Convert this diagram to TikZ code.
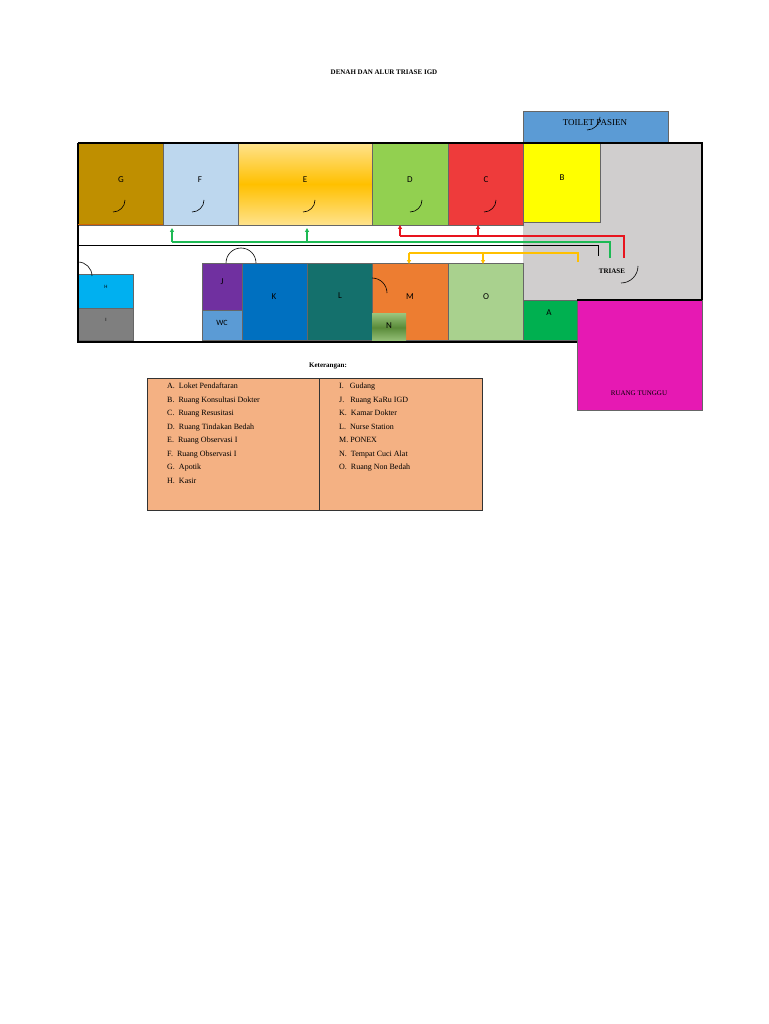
\documentclass[tikz,border=0pt]{standalone}
\usepackage{fontspec}
\setmainfont{Liberation Serif}
\newfontfamily\roomfont{Carlito}
\usetikzlibrary{arrows.meta}
\definecolor{cG}{HTML}{BF8F00}
\definecolor{cF}{HTML}{BDD7EE}
\definecolor{cE}{HTML}{FFC000}
\definecolor{cD}{HTML}{92D050}
\definecolor{cC}{HTML}{EE3B3B}
\definecolor{cB}{HTML}{FFFF00}
\definecolor{cGray}{HTML}{D0CECE}
\definecolor{cToilet}{HTML}{5B9BD5}
\definecolor{cH}{HTML}{00B0F0}
\definecolor{cI}{HTML}{7F7F7F}
\definecolor{cJ}{HTML}{7030A0}
\definecolor{cK}{HTML}{0070C0}
\definecolor{cL}{HTML}{14706C}
\definecolor{cM}{HTML}{ED7D31}
\definecolor{cN}{HTML}{70AD47}
\definecolor{cO}{HTML}{A9D18E}
\definecolor{cA}{HTML}{00B050}
\definecolor{cTunggu}{HTML}{E619B3}
\definecolor{cLegend}{HTML}{F4B183}
\definecolor{cGreen}{HTML}{1DB954}
\definecolor{cRed}{HTML}{E8141E}
\definecolor{cYellow}{HTML}{FFC000}
\tikzset{
  room/.style={draw=black!60, line width=0.4pt},
  label/.style={font=\roomfont\small},
  door/.style={line width=0.6pt},
  wall/.style={line width=1.6pt},
  flow/.style={line width=1.4pt},
  flowtip/.style={-{Triangle[length=4pt,width=4pt]}, line width=1.4pt}
}
\begin{document}
\begin{tikzpicture}[x=1pt,y=-1pt]
\useasboundingbox (0,0) rectangle (768,1024);
\node (title) at (384,72) {\scriptsize\bfseries DENAH DAN ALUR TRIASE IGD};

% ruang atas
\fill[cGray] (523,143) rectangle (702,300);
\filldraw[room,fill=cToilet] (523,111) rectangle (668,143);
\node (toilet) at (595,123) {\small TOILET PASIEN};
\filldraw[room,fill=cG] (78,143) rectangle (163,225);
\filldraw[room,fill=cF] (163,143) rectangle (238,225);
\shade[top color=cE!45,bottom color=cE!45,middle color=cE] (238,143) rectangle (372,225);
\draw[room] (238,143) rectangle (372,225);
\filldraw[room,fill=cD] (372,143) rectangle (448,225);
\filldraw[room,fill=cC] (448,143) rectangle (523,225);
\filldraw[room,fill=cB] (523,143) rectangle (600,222);
\node[label] (G) at (121,180) {G};
\node[label] (F) at (200,180) {F};
\node[label] (E) at (305,180) {E};
\node[label] (D) at (410,180) {D};
\node[label] (C) at (486,180) {C};
\node[label] (B) at (562,178) {B};

% ruang bawah
\filldraw[room,fill=cH] (78,274) rectangle (133,308);
\filldraw[room,fill=cI] (78,308) rectangle (133,340);
\filldraw[room,fill=cJ] (202,263) rectangle (242,310);
\filldraw[room,fill=cToilet] (202,310) rectangle (242,340);
\filldraw[room,fill=cK] (242,263) rectangle (307,340);
\filldraw[room,fill=cL] (307,263) rectangle (372,340);
\filldraw[room,fill=cM] (372,263) rectangle (448,340);
\shade[top color=cN!70!white,bottom color=cN!70!white,middle color=cN!80!black] (372,313) rectangle (406,342);
\filldraw[room,fill=cO] (448,263) rectangle (523,340);
\filldraw[room,fill=cA] (523,300) rectangle (577,340);
\filldraw[room,fill=cTunggu] (577,300) rectangle (702,410);
\node[label,font=\roomfont\tiny] (H) at (106,287) {H};
\node[label,font=\roomfont\tiny] (I) at (106,320) {I};
\node[label] (J) at (222,282) {J};
\node[label,font=\roomfont\footnotesize] (WC) at (222,323) {WC};
\node[label] (K) at (274,297) {K};
\node[label] (L) at (340,296) {L};
\node[label] (M) at (410,297) {M};
\node[label] (N) at (389,326) {N};
\node[label] (O) at (486,297) {O};
\node[label] (A) at (549,313) {A};
\node (triase) at (612,271) {\scriptsize\bfseries TRIASE};
\node (tunggu) at (639,393) {\scriptsize RUANG TUNGGU};

% dinding
\draw[wall] (78,143) -- (702,143) -- (702,300);
\draw[wall] (78,143) -- (78,342) -- (577,342);
\draw[wall] (577,300) -- (702,300);
\draw[line width=1pt] (78,245) -- (598,245) -- (598,256);
\draw[line width=1pt,cG!70!red] (78,225) -- (163,225);

% pintu
\foreach \x in {113,192,303,410,484} \draw[door] (\x,212) arc[start angle=90,end angle=0,radius=12];
\draw[door] (587,130) arc[start angle=90,end angle=0,radius=13];
\draw[door] (621,283) arc[start angle=90,end angle=0,radius=17];
\draw[door] (78,262) arc[start angle=-90,end angle=0,radius=14];
\draw[door] (226,263) arc[start angle=180,end angle=360,radius=15];
\draw[door] (372,278) arc[start angle=-90,end angle=0,radius=15];

% alur
\draw[flow,cGreen] (610,258) -- (610,242) -- (172,242);
\draw[flowtip,cGreen] (172,242) -- (172,228);
\draw[flowtip,cGreen] (307,242) -- (307,228);
\draw[flow,cRed] (624,258) -- (624,236) -- (400,236);
\draw[flowtip,cRed] (400,236) -- (400,225);
\draw[flowtip,cRed] (478,236) -- (478,225);
\draw[flow,cYellow] (578,262) -- (578,253) -- (409,253);
\draw[flowtip,cYellow] (409,253) -- (409,264);
\draw[flowtip,cYellow] (483,253) -- (483,264);

% keterangan
\node (ket) at (328,366) {\scriptsize\bfseries Keterangan:};
\filldraw[fill=cLegend,draw=black!80] (147,378) rectangle (482,510);
\draw[black!80] (319,378) -- (319,510);
\node[anchor=north west,align=left,font=\footnotesize,inner sep=0pt] (kiri) at (167,383)
 {A.\ \ Loket Pendaftaran\\[4pt] B.\ \ Ruang Konsultasi Dokter\\[4pt] C.\ \ Ruang Resusitasi\\[4pt]
  D.\ \ Ruang Tindakan Bedah\\[4pt] E.\ \ Ruang Observasi I\\[4pt] F.\ \ Ruang Observasi I\\[4pt]
  G.\ \ Apotik\\[4pt] H.\ \ Kasir};
\node[anchor=north west,align=left,font=\footnotesize,inner sep=0pt] (kanan) at (339,383)
 {I.\ \ \ Gudang\\[4pt] J.\ \ \ Ruang KaRu IGD\\[4pt] K.\ \ Kamar Dokter\\[4pt]
  L.\ \ Nurse Station\\[4pt] M.\ PONEX\\[4pt] N.\ \ Tempat Cuci Alat\\[4pt] O.\ \ Ruang Non Bedah};
\end{tikzpicture}
\end{document}
